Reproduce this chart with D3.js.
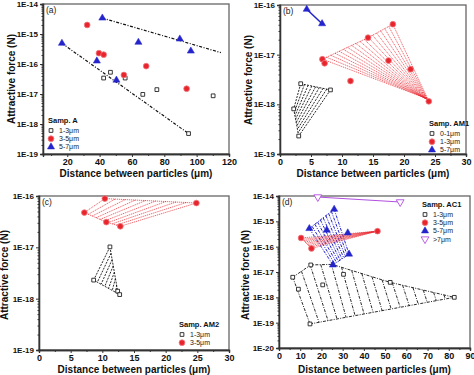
<!DOCTYPE html>
<html lang="en">
<head>
<meta charset="UTF-8">
<script src="https://d3js.org/d3.v7.min.js"></script>
<style>
  body { margin: 0; background: #fff; }
  text { font-family: Arial, "Liberation Sans", sans-serif; }
  .tick text { font-weight: bold; fill: #111; }
  .axis-title { font-size: 10px; font-weight: bold; fill: #111; }
</style>
</head>
<body>
<div id="chart"></div>
<script>
// ---- data ----
// panel (a) Samp. A
const aSquares   = [[42.5,3.4e-17],[46.7,5.3e-17],[55.8,3.4e-17],[66.7,9.7e-18],[75.4,1.4e-17],[95,4.8e-19],[110.2,8.7e-18]];
const aCircles   = [[32.3,2.0e-15],[39.6,2.3e-16],[42.5,2.05e-16],[55,4.3e-17],[68.8,8.5e-17],[93.8,1.5e-17]];
const aTriangles = [[16.7,4.9e-16],[41.7,3.4e-15],[38.3,1.26e-16],[50.4,2.9e-17],[64,5.3e-16],[89.6,6.8e-16],[96.4,2.7e-16]];
const aFitLow  = [[16.7,4.9e-16],[95,4.8e-19]];
const aFitHigh = [[41.7,3.4e-15],[115,2.4e-16]];

// panel (b) Samp. AM1
const bSquares   = [[3.34,2.6e-18],[8.14,1.95e-18],[2.21,8.1e-19],[3.02,2.3e-19]];
const bCircles   = [[6.84,8.1e-18],[7.2,6.7e-18],[11.37,2.95e-18],[14.2,2.2e-17],[17.5,7.6e-18],[18.2,4.1e-17],[21.07,5.1e-18],[24.0,1.15e-18]];
const bTriangles = [[4.31,8.2e-17],[6.79,4.2e-17]];

// panel (c) Samp. AM2
const cSquares = [[11.2,1.02e-17],[8.63,2.3e-18],[12.42,1.4e-18],[12.74,1.2e-18]];
const cCircles = [[10.4,8.9e-17],[24.85,7.3e-17],[7.16,4.75e-17],[10.63,3.1e-17],[12.84,2.57e-17]];

// panel (d) Samp. AC1
const dSquares   = [[14.96,1.9e-17],[6.47,6.2e-18],[9.14,2.1e-18],[20.6,3.1e-18],[30.4,8.1e-18],[52.4,3.9e-18],[82.6,1.0e-18],[14.6,8.9e-20]];
const dCircles   = [[10.4,2.2e-16],[15.3,8.5e-17],[46.4,4.1e-16]];
const dTriangles = [[14.3,5.2e-16],[26.0,3.0e-15],[22.5,4.5e-16],[32.4,3.5e-16],[33.0,5.1e-17],[25.4,1.9e-17]];
const dDownTri   = [[18.3,9.1e-15],[57.1,5.8e-15]];

// hatched areas: two edges joined by evenly spaced lines
const bBlackHatch = {a: [[3.34,2.6e-18],[8.14,1.95e-18]], b: [[2.21,8.1e-19],[3.02,2.3e-19]], n: 8};
const bRedHatch   = {a: [[6.84,8.1e-18],[14.2,2.2e-17],[18.2,4.1e-17]], b: [[23.4,1.35e-18],[24.0,1.15e-18]], n: 17};
const cRedHatch   = {a: [[10.4,8.9e-17],[24.85,7.3e-17]], b: [[7.16,4.75e-17],[10.63,3.1e-17],[12.84,2.57e-17]], n: 9};
const cBlackHatch = {a: [[11.2,1.02e-17],[12.42,1.4e-18]], b: [[8.63,2.3e-18],[12.74,1.2e-18]], n: 7};
const dBlackHatch = {a: [[6.47,6.2e-18],[14.96,1.9e-17],[25,2.0e-17],[52.4,3.9e-18],[82.6,1.0e-18]], b: [[14.6,8.9e-20],[82.6,1.0e-18]], n: 16};
const dBlueHatch  = {a: [[14.3,5.2e-16],[26.0,3.0e-15]], b: [[25.4,1.9e-17],[33.0,5.1e-17]], n: 9};
const dRedHatch   = {a: [[10.4,2.2e-16],[15.3,8.5e-17]], b: [[46.4,4.1e-16],[46.4,4.1e-16]], n: 8};

const RED = "#e8242c", BLUE = "#2424cc", PURPLE = "#b24fe0", BLACK = "#222";

const width = 474, height = 375;
const svg = d3.select("#chart").append("svg")
    .attr("width", width)
    .attr("height", height);

// point at fraction t along a pixel polyline
function along(pts, t) {
    const seg = [];
    let total = 0;
    for (let i = 1; i < pts.length; i++) {
        const l = Math.hypot(pts[i][0] - pts[i-1][0], pts[i][1] - pts[i-1][1]);
        seg.push(l); total += l;
    }
    let target = t * total;
    for (let i = 0; i < seg.length; i++) {
        if (target <= seg[i] || i === seg.length - 1) {
            const f = seg[i] ? Math.min(1, target / seg[i]) : 0;
            return [pts[i][0] + f * (pts[i+1][0] - pts[i][0]), pts[i][1] + f * (pts[i+1][1] - pts[i][1])];
        }
        target -= seg[i];
    }
    return pts[pts.length - 1];
}

function panel(cfg) {
    const g = svg.append("g");
    const x = d3.scaleLinear().domain(cfg.xDomain).range([cfg.left, cfg.right]);
    const y = d3.scaleLog().domain(cfg.yDomain).range([cfg.bottom, cfg.top]);
    const px = d => [x(d[0]), y(d[1])];

    // frame
    g.append("rect")
        .attr("x", cfg.left).attr("y", cfg.top)
        .attr("width", cfg.right - cfg.left).attr("height", cfg.bottom - cfg.top)
        .attr("fill", "none").attr("stroke", "#666").attr("stroke-width", 1.3);

    // axes
    const lo = Math.round(Math.log10(cfg.yDomain[0])), hi = Math.round(Math.log10(cfg.yDomain[1]));
    const decades = d3.range(lo, hi + 1).map(e => Math.pow(10, e));
    const minorY = [];
    decades.slice(0, -1).forEach(d => { for (let k = 2; k < 10; k++) minorY.push(d * k); });

    const yMinor = g.append("g").attr("transform", `translate(${cfg.left},0)`)
        .call(d3.axisLeft(y).tickValues(minorY).tickSize(1.5).tickFormat(""));
    const yAxis = g.append("g").attr("transform", `translate(${cfg.left},0)`)
        .call(d3.axisLeft(y).tickValues(decades).tickSize(3).tickPadding(2)
            .tickFormat(d => "1E" + Math.round(Math.log10(d))));
    yAxis.selectAll(".tick text").style("font-size", "8px");

    const xMinor = g.append("g").attr("transform", `translate(0,${cfg.bottom})`)
        .call(d3.axisBottom(x).tickValues(cfg.xMinor).tickSize(2).tickFormat(""));
    const xAxis = g.append("g").attr("transform", `translate(0,${cfg.bottom})`)
        .call(d3.axisBottom(x).tickValues(cfg.xTicks).tickSize(3).tickPadding(2).tickFormat(d3.format("d")));
    xAxis.selectAll(".tick text").style("font-size", "9px");

    [yMinor, yAxis, xMinor, xAxis].forEach(a => {
        a.select(".domain").attr("stroke", "#333").attr("stroke-width", 1.3);
        a.selectAll(".tick line").attr("stroke", "#333");
    });

    // axis titles
    g.append("text").attr("class", "axis-title")
        .attr("x", (cfg.left + cfg.right) / 2).attr("y", cfg.xTitleY)
        .attr("text-anchor", "middle")
        .text("Distance between particles (μm)");
    g.append("text").attr("class", "axis-title")
        .attr("transform", `translate(${cfg.yTitleX},${cfg.yTitleY}) rotate(-90)`)
        .attr("text-anchor", "middle")
        .text("Attractive force (N)");

    // panel letter
    g.append("text")
        .attr("x", cfg.left + 3).attr("y", cfg.top + 9)
        .style("font-size", "8.5px").attr("fill", "#222")
        .text(cfg.label);

    const line = d3.line();
    // hatched regions
    (cfg.hatches || []).forEach(h => {
        const ea = h.a.map(px), eb = h.b.map(px);
        const hg = g.append("g").attr("fill", "none").attr("stroke", h.color)
            .attr("stroke-width", h.width).attr("stroke-dasharray", h.dash);
        d3.range(h.n + 1).forEach(i => {
            const t = i / h.n;
            hg.append("path").attr("d", line([along(ea, t), along(eb, t)]));
        });
        hg.append("path").attr("d", line(ea));
        hg.append("path").attr("d", line(eb));
    });

    // straight lines
    (cfg.lines || []).forEach(l => {
        g.append("path").attr("d", line(l.data.map(px)))
            .attr("fill", "none").attr("stroke", l.color)
            .attr("stroke-width", l.width).attr("stroke-dasharray", l.dash || null);
    });

    // markers
    const sym = {
        square: d3.symbol().type(d3.symbolSquare).size(14),
        circle: d3.symbol().type(d3.symbolCircle).size(26),
        triangle: d3.symbol().type(d3.symbolTriangle).size(22),
        down: d3.symbol().type(d3.symbolTriangle).size(26)
    };
    function marker(sel, s) {
        if (s.type === "square") sel.attr("d", sym.square).attr("fill", "#fff").attr("stroke", BLACK).attr("stroke-width", 0.9);
        if (s.type === "circle") sel.attr("d", sym.circle).attr("fill", RED).attr("stroke", "#f07a80").attr("stroke-width", 0.8);
        if (s.type === "triangle") sel.attr("d", sym.triangle).attr("fill", BLUE).attr("stroke", BLUE).attr("stroke-width", 0.5);
        if (s.type === "down") sel.attr("d", sym.down).attr("fill", "#fff").attr("stroke", PURPLE).attr("stroke-width", 0.9);
    }
    cfg.series.forEach(s => {
        g.selectAll(null).data(s.data).enter().append("path")
            .attr("transform", d => `translate(${x(d[0])},${y(d[1])})` + (s.type === "down" ? " rotate(180)" : ""))
            .call(marker, s);
    });

    // legend
    const lg = g.append("g").attr("transform", `translate(${cfg.legend[0]},${cfg.legend[1]})`);
    lg.append("text").attr("x", 0).attr("y", 0)
        .style("font-size", "7.5px").style("font-weight", "bold").attr("fill", "#111")
        .text(cfg.sample);
    cfg.series.forEach((s, i) => {
        const yy = 10 + i * 8.2;
        lg.append("path")
            .attr("transform", `translate(3,${yy - 2.5})` + (s.type === "down" ? " rotate(180)" : ""))
            .call(marker, s);
        lg.append("text").attr("x", 11).attr("y", yy)
            .style("font-size", "7px").attr("fill", "#222").text(s.name);
    });
}

// (a)
panel({
    label: "(a)", sample: "Samp. A",
    left: 43, right: 229, top: 4, bottom: 154,
    xDomain: [5, 120], yDomain: [1e-19, 1e-14],
    xTicks: d3.range(20, 121, 20), xMinor: d3.range(10, 120, 20),
    xTitleY: 177, yTitleX: 15, yTitleY: 79,
    legend: [48, 123],
    lines: [
        {data: aFitLow, color: "#111", width: 1.2, dash: "3,1.6,1,1.6"},
        {data: aFitHigh, color: "#111", width: 1.2, dash: "3,1.6,1,1.6"}
    ],
    series: [
        {name: "1-3μm", type: "square", data: aSquares},
        {name: "3-5μm", type: "circle", data: aCircles},
        {name: "5-7μm", type: "triangle", data: aTriangles}
    ]
});

// (b)
panel({
    label: "(b)", sample: "Samp. AM1",
    left: 280, right: 466, top: 5, bottom: 154,
    xDomain: [0, 30], yDomain: [1e-19, 1e-16],
    xTicks: d3.range(0, 31, 5), xMinor: d3.range(2.5, 30, 5),
    xTitleY: 177, yTitleX: 252, yTitleY: 80,
    legend: [429, 126],
    hatches: [
        {...bBlackHatch, color: "#111", width: 0.9, dash: "2,1.2"},
        {...bRedHatch, color: RED, width: 0.7, dash: "1.2,0.8"}
    ],
    lines: [{data: bTriangles, color: BLUE, width: 1.6}],
    series: [
        {name: "0-1μm", type: "square", data: bSquares},
        {name: "1-3μm", type: "circle", data: bCircles},
        {name: "5-7μm", type: "triangle", data: bTriangles}
    ]
});

// (c)
panel({
    label: "(c)", sample: "Samp. AM2",
    left: 39, right: 229, top: 196, bottom: 350,
    xDomain: [0, 30], yDomain: [1e-19, 1e-16],
    xTicks: d3.range(0, 31, 5), xMinor: d3.range(2.5, 30, 5),
    xTitleY: 373, yTitleX: 8, yTitleY: 275,
    legend: [179, 327],
    hatches: [
        {...cRedHatch, color: RED, width: 0.7, dash: "1.2,0.8"},
        {...cBlackHatch, color: "#111", width: 0.9, dash: "2,1.2"}
    ],
    series: [
        {name: "1-3μm", type: "square", data: cSquares},
        {name: "3-5μm", type: "circle", data: cCircles}
    ]
});

// (d)
panel({
    label: "(d)", sample: "Samp. AC1",
    left: 279, right: 470, top: 196, bottom: 348,
    xDomain: [0, 90], yDomain: [1e-20, 1e-14],
    xTicks: d3.range(0, 91, 10), xMinor: d3.range(5, 90, 10),
    xTitleY: 373, yTitleX: 249, yTitleY: 275,
    legend: [422, 207],
    hatches: [
        {...dBlackHatch, color: "#111", width: 0.9, dash: "3,1.3,1,1.3"},
        {...dBlueHatch, color: BLUE, width: 1, dash: "3,1.3,1,1.3"},
        {...dRedHatch, color: RED, width: 0.7, dash: "1.2,0.8"}
    ],
    lines: [{data: dDownTri, color: PURPLE, width: 1}],
    series: [
        {name: "1-3μm", type: "square", data: dSquares},
        {name: "3-5μm", type: "circle", data: dCircles},
        {name: "5-7μm", type: "triangle", data: dTriangles},
        {name: ">7μm", type: "down", data: dDownTri}
    ]
});
</script>
</body>
</html>
